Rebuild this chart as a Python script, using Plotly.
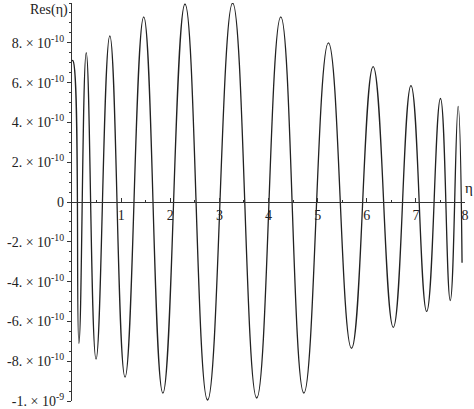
import plotly.graph_objects as go

eta = [0.0, 0.02, 0.14, 0.29, 0.49, 0.77, 1.08, 1.46, 1.85, 2.30, 2.76, 3.27, 3.76, 4.25, 4.72,
       5.22, 5.69, 6.13, 6.54, 6.90, 7.22, 7.50, 7.70, 7.86, 7.94]
res = [7.1e-10, 7.1e-10, -7.1e-10, 7.5e-10, -7.9e-10, 8.35e-10, -8.8e-10, 9.3e-10, -9.6e-10, 9.95e-10,
       -9.95e-10, 10.0e-10, -9.85e-10, 9.3e-10, -9.6e-10,
       8.0e-10, -7.35e-10, 6.8e-10, -6.3e-10, 5.85e-10, -5.5e-10, 5.2e-10, -4.95e-10, 4.8e-10, -3.05e-10]

ytick_vals = [-1e-9, -8e-10, -6e-10, -4e-10, -2e-10, 0, 2e-10, 4e-10, 6e-10, 8e-10]
ytick_text = ["-1. × 10<sup>-9</sup>", "-8. × 10<sup>-10</sup>", "-6. × 10<sup>-10</sup>",
              "-4. × 10<sup>-10</sup>", "-2. × 10<sup>-10</sup>", "0", "2. × 10<sup>-10</sup>",
              "4. × 10<sup>-10</sup>", "6. × 10<sup>-10</sup>", "8. × 10<sup>-10</sup>"]
xtick_vals = [1, 2, 3, 4, 5, 6, 7, 8]
xtick_text = ["1", "2", "3", "4", "5", "6", "7", "8"]

font = dict(family="Liberation Serif, Times New Roman, serif", size=14, color="#222")
fig = go.Figure(go.Scatter(x=eta, y=res, mode="lines", line=dict(color="#222", width=1.3, shape="spline", smoothing=1.3)))
fig.update_layout(
    width=474, height=409, margin=dict(l=72, r=9, t=3, b=8, autoexpand=False),
    plot_bgcolor="white", paper_bgcolor="white", showlegend=False, font=font,
    xaxis=dict(range=[0, 8], anchor="free", position=0.5, tickvals=xtick_vals, ticktext=xtick_text,
               showgrid=False, zeroline=False, showline=True, linecolor="#333", linewidth=1.2,
               ticks="inside", ticklen=4, tickcolor="#333", automargin=False,
               minor=dict(dtick=0.5, ticks="inside", ticklen=2, tickcolor="#333")),
    yaxis=dict(range=[-1.0e-9, 1.0e-9], tickvals=ytick_vals, ticktext=ytick_text,
               showgrid=False, zeroline=False, showline=True, linecolor="#333", linewidth=1.2,
               ticks="outside", ticklen=4, tickcolor="#333", automargin=False,
               minor=dict(dtick=0.5e-10, ticks="outside", ticklen=2, tickcolor="#333")),
    annotations=[
        dict(text="Res(η)", xref="paper", yref="paper", x=0, y=1, xanchor="right", yanchor="top",
             xshift=-2, yshift=3, showarrow=False, font=font),
        dict(text="η", xref="paper", yref="paper", x=1, y=0.5, xanchor="left", yanchor="bottom",
             xshift=-2, yshift=4, showarrow=False, font=dict(family="Liberation Serif, serif", size=15, color="#222")),
    ],
)
fig.write_html("out.html", config={"displayModeBar": False},
               post_script="document.body.style.margin='0';document.body.style.overflow='hidden';")
